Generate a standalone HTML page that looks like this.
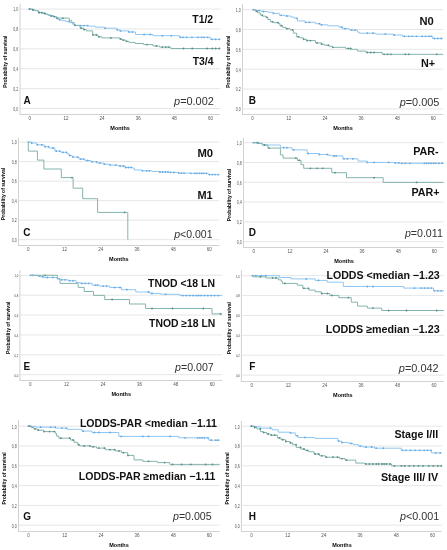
<!DOCTYPE html><html><head><meta charset="utf-8"><style>html,body{margin:0;padding:0;background:#fff;}svg{display:block;will-change:transform;}text{font-family:"Liberation Sans",sans-serif;}</style></head><body>
<svg width="447" height="550" viewBox="0 0 447 550">
<rect width="447" height="550" fill="#fff"/>
<g id="pA"><line x1="20" y1="108.5" x2="220.3" y2="108.5" stroke="#e6e6e6" stroke-width="1"/><line x1="20" y1="88.62" x2="220.3" y2="88.62" stroke="#e6e6e6" stroke-width="1"/><line x1="20" y1="68.74" x2="220.3" y2="68.74" stroke="#e6e6e6" stroke-width="1"/><line x1="20" y1="48.86" x2="220.3" y2="48.86" stroke="#e6e6e6" stroke-width="1"/><line x1="20" y1="28.98" x2="220.3" y2="28.98" stroke="#e6e6e6" stroke-width="1"/><line x1="20" y1="9.1" x2="220.3" y2="9.1" stroke="#e6e6e6" stroke-width="1"/><line x1="20" y1="3.5" x2="20" y2="115" stroke="#d2d2d2" stroke-width="1"/><line x1="20" y1="114.5" x2="220.3" y2="114.5" stroke="#d2d2d2" stroke-width="1"/><text x="18.3" y="110.8" font-size="4.6" fill="#555555" text-anchor="end" textLength="5.0" lengthAdjust="spacingAndGlyphs">0,0</text><text x="18.3" y="90.92" font-size="4.6" fill="#555555" text-anchor="end" textLength="5.0" lengthAdjust="spacingAndGlyphs">0,2</text><text x="18.3" y="71.04" font-size="4.6" fill="#555555" text-anchor="end" textLength="5.0" lengthAdjust="spacingAndGlyphs">0,4</text><text x="18.3" y="51.16" font-size="4.6" fill="#555555" text-anchor="end" textLength="5.0" lengthAdjust="spacingAndGlyphs">0,6</text><text x="18.3" y="31.28" font-size="4.6" fill="#555555" text-anchor="end" textLength="5.0" lengthAdjust="spacingAndGlyphs">0,8</text><text x="18.3" y="11.4" font-size="4.6" fill="#555555" text-anchor="end" textLength="5.0" lengthAdjust="spacingAndGlyphs">1,0</text><text x="29.8" y="119.8" font-size="4.5" fill="#555555" text-anchor="middle">0</text><text x="65.92" y="119.8" font-size="4.5" fill="#555555" text-anchor="middle">12</text><text x="102.04" y="119.8" font-size="4.5" fill="#555555" text-anchor="middle">24</text><text x="138.16" y="119.8" font-size="4.5" fill="#555555" text-anchor="middle">36</text><text x="174.28" y="119.8" font-size="4.5" fill="#555555" text-anchor="middle">48</text><text x="210.4" y="119.8" font-size="4.5" fill="#555555" text-anchor="middle">60</text><text x="120.1" y="129.8" font-size="5.5" font-weight="bold" fill="#000" text-anchor="middle">Months</text><text transform="translate(7.3,61.6) rotate(-90)" font-size="5" font-weight="bold" fill="#000" text-anchor="middle">Probability of survival</text><path d="M29.8,9.1 32.8,9.1 32.8,9.9 35,9.9 35,10.5 37.3,10.5 37.3,11.2 39,11.2 39,12.6 42.9,12.6 42.9,13.4 45.5,13.4 45.5,14.2 47.9,14.2 47.9,15.1 50.7,15.1 50.7,15.9 53.5,15.9 53.5,16.6 56.3,16.6 56.3,19 59,19 59,19.8 61.9,19.8 61.9,20.7 65.7,20.7 65.7,21.5 69.5,21.5 69.5,22.6 72.5,22.6 72.5,24.2 75,24.2 75,25.6 88.5,25.6 88.5,26.2 95.2,26.2 95.2,27.1 104.1,27.1 104.1,28.2 116.7,28.2 116.7,29.8 119.5,29.8 119.5,30.9 128.5,30.9 128.5,32 135.5,32 135.5,34.5 153,34.5 153,35.7 179.7,35.7 179.7,37.3 210.3,37.3 210.3,39.3 220.3,39.3" fill="none" stroke="#90c7f2" stroke-width="1"/><circle cx="29.5" cy="9.1" r="0.9" fill="#62a8e2"/><circle cx="32.8" cy="9.9" r="0.9" fill="#62a8e2"/><circle cx="39" cy="12.6" r="0.9" fill="#62a8e2"/><circle cx="41.8" cy="12.6" r="0.9" fill="#62a8e2"/><circle cx="44.6" cy="13.4" r="0.9" fill="#62a8e2"/><circle cx="51.3" cy="15.9" r="0.9" fill="#62a8e2"/><circle cx="54.1" cy="16.6" r="0.9" fill="#62a8e2"/><circle cx="59.7" cy="19.8" r="0.9" fill="#62a8e2"/><circle cx="69.2" cy="21.5" r="0.9" fill="#62a8e2"/><circle cx="80.7" cy="25.6" r="0.9" fill="#62a8e2"/><circle cx="84" cy="25.6" r="0.9" fill="#62a8e2"/><circle cx="87.4" cy="25.6" r="0.9" fill="#62a8e2"/><circle cx="105.3" cy="28.2" r="0.9" fill="#62a8e2"/><circle cx="117.3" cy="29.8" r="0.9" fill="#62a8e2"/><circle cx="120.6" cy="30.9" r="0.9" fill="#62a8e2"/><circle cx="129" cy="32" r="0.9" fill="#62a8e2"/><circle cx="132.4" cy="32" r="0.9" fill="#62a8e2"/><circle cx="144.1" cy="34.5" r="0.9" fill="#62a8e2"/><circle cx="150.3" cy="34.5" r="0.9" fill="#62a8e2"/><circle cx="162.4" cy="35.7" r="0.9" fill="#62a8e2"/><circle cx="171.3" cy="35.7" r="0.9" fill="#62a8e2"/><circle cx="180.3" cy="37.3" r="0.9" fill="#62a8e2"/><circle cx="183" cy="37.3" r="0.9" fill="#62a8e2"/><circle cx="186.4" cy="37.3" r="0.9" fill="#62a8e2"/><circle cx="192" cy="37.3" r="0.9" fill="#62a8e2"/><circle cx="198" cy="37.3" r="0.9" fill="#62a8e2"/><circle cx="201.6" cy="37.3" r="0.9" fill="#62a8e2"/><circle cx="204" cy="37.3" r="0.9" fill="#62a8e2"/><circle cx="207.6" cy="37.3" r="0.9" fill="#62a8e2"/><circle cx="212" cy="39.3" r="0.9" fill="#62a8e2"/><circle cx="215.6" cy="39.3" r="0.9" fill="#62a8e2"/><circle cx="219.3" cy="39.3" r="0.9" fill="#62a8e2"/><path d="M29.8,9.1 32.8,9.1 32.8,9.9 35,9.9 35,10.5 37.3,10.5 37.3,11.2 39,11.2 39,12.6 42.9,12.6 42.9,13.4 45.5,13.4 45.5,14.2 47.9,14.2 47.9,15.1 50.7,15.1 50.7,15.9 53.5,15.9 53.5,16.6 56.3,16.6 56.3,18.1 69.3,18.1 69.3,20.4 71.7,20.4 71.7,22.6 74.2,22.6 74.2,25.3 80.1,25.3 80.1,28.2 83.5,28.2 83.5,29.5 86.3,29.5 86.3,30.9 92.7,30.9 92.7,34.9 98,34.9 98,36.8 101.9,36.8 101.9,37.9 119.5,37.9 119.5,39 122.3,39 122.3,40.1 125.7,40.1 125.7,41.3 129,41.3 129,42.4 135.2,42.4 135.2,43.5 143.6,43.5 143.6,44.6 153,44.6 153,46 159.6,46 159.6,47.1 170.8,47.1 170.8,48.5 220.3,48.5" fill="none" stroke="#85b4ae" stroke-width="1"/><circle cx="29.5" cy="9.1" r="0.9" fill="#578d86"/><circle cx="32.8" cy="9.9" r="0.9" fill="#578d86"/><circle cx="39" cy="12.6" r="0.9" fill="#578d86"/><circle cx="41.8" cy="12.6" r="0.9" fill="#578d86"/><circle cx="44.6" cy="13.4" r="0.9" fill="#578d86"/><circle cx="51.3" cy="15.9" r="0.9" fill="#578d86"/><circle cx="54.1" cy="16.6" r="0.9" fill="#578d86"/><circle cx="57.4" cy="18.1" r="0.9" fill="#578d86"/><circle cx="63" cy="18.1" r="0.9" fill="#578d86"/><circle cx="75" cy="25.3" r="0.9" fill="#578d86"/><circle cx="81.2" cy="28.2" r="0.9" fill="#578d86"/><circle cx="84" cy="29.5" r="0.9" fill="#578d86"/><circle cx="93" cy="34.9" r="0.9" fill="#578d86"/><circle cx="96.3" cy="34.9" r="0.9" fill="#578d86"/><circle cx="99.1" cy="36.8" r="0.9" fill="#578d86"/><circle cx="110.9" cy="37.9" r="0.9" fill="#578d86"/><circle cx="120.6" cy="39" r="0.9" fill="#578d86"/><circle cx="123.4" cy="40.1" r="0.9" fill="#578d86"/><circle cx="126.6" cy="41.3" r="0.9" fill="#578d86"/><circle cx="146.9" cy="44.6" r="0.9" fill="#578d86"/><circle cx="156.4" cy="46" r="0.9" fill="#578d86"/><circle cx="162.4" cy="47.1" r="0.9" fill="#578d86"/><circle cx="165.7" cy="47.1" r="0.9" fill="#578d86"/><circle cx="168.5" cy="47.1" r="0.9" fill="#578d86"/><circle cx="183.5" cy="48.5" r="0.9" fill="#578d86"/><circle cx="192.2" cy="48.5" r="0.9" fill="#578d86"/><circle cx="207" cy="48.5" r="0.9" fill="#578d86"/><circle cx="212.3" cy="48.5" r="0.9" fill="#578d86"/><circle cx="215.7" cy="48.5" r="0.9" fill="#578d86"/><circle cx="219.3" cy="48.5" r="0.9" fill="#578d86"/><text x="23.53" y="104.46" font-size="10" font-weight="bold" fill="#111">A</text><text x="213.8" y="105.02" font-size="10.91" fill="#333" text-anchor="end"><tspan font-style="italic">p</tspan>=0.002</text><text x="213.11" y="23.35" font-size="10.4" font-weight="bold" fill="#111" text-anchor="end">T1/2</text><text x="213.46" y="64.73" font-size="10.4" font-weight="bold" fill="#111" text-anchor="end">T3/4</text></g>
<g id="pB"><line x1="242.5" y1="108.9" x2="443.2" y2="108.9" stroke="#e6e6e6" stroke-width="1"/><line x1="242.5" y1="89.06" x2="443.2" y2="89.06" stroke="#e6e6e6" stroke-width="1"/><line x1="242.5" y1="69.22" x2="443.2" y2="69.22" stroke="#e6e6e6" stroke-width="1"/><line x1="242.5" y1="49.38" x2="443.2" y2="49.38" stroke="#e6e6e6" stroke-width="1"/><line x1="242.5" y1="29.54" x2="443.2" y2="29.54" stroke="#e6e6e6" stroke-width="1"/><line x1="242.5" y1="9.7" x2="443.2" y2="9.7" stroke="#e6e6e6" stroke-width="1"/><line x1="242.5" y1="4" x2="242.5" y2="115" stroke="#d2d2d2" stroke-width="1"/><line x1="242.5" y1="114.5" x2="443.2" y2="114.5" stroke="#d2d2d2" stroke-width="1"/><text x="240.8" y="111.2" font-size="4.6" fill="#555555" text-anchor="end" textLength="5.0" lengthAdjust="spacingAndGlyphs">0,0</text><text x="240.8" y="91.36" font-size="4.6" fill="#555555" text-anchor="end" textLength="5.0" lengthAdjust="spacingAndGlyphs">0,2</text><text x="240.8" y="71.52" font-size="4.6" fill="#555555" text-anchor="end" textLength="5.0" lengthAdjust="spacingAndGlyphs">0,4</text><text x="240.8" y="51.68" font-size="4.6" fill="#555555" text-anchor="end" textLength="5.0" lengthAdjust="spacingAndGlyphs">0,6</text><text x="240.8" y="31.84" font-size="4.6" fill="#555555" text-anchor="end" textLength="5.0" lengthAdjust="spacingAndGlyphs">0,8</text><text x="240.8" y="12" font-size="4.6" fill="#555555" text-anchor="end" textLength="5.0" lengthAdjust="spacingAndGlyphs">1,0</text><text x="252.6" y="120" font-size="4.5" fill="#555555" text-anchor="middle">0</text><text x="288.76" y="120" font-size="4.5" fill="#555555" text-anchor="middle">12</text><text x="324.91" y="120" font-size="4.5" fill="#555555" text-anchor="middle">24</text><text x="361.07" y="120" font-size="4.5" fill="#555555" text-anchor="middle">36</text><text x="397.22" y="120" font-size="4.5" fill="#555555" text-anchor="middle">48</text><text x="433.38" y="120" font-size="4.5" fill="#555555" text-anchor="middle">60</text><text x="342.99" y="130" font-size="5.5" font-weight="bold" fill="#000" text-anchor="middle">Months</text><text transform="translate(230.2,61.6) rotate(-90)" font-size="5" font-weight="bold" fill="#000" text-anchor="middle">Probability of survival</text><path d="M252.6,9.7 255.8,9.7 255.8,10.6 261.4,10.6 261.4,11.5 268.1,11.5 268.1,12.3 273.2,12.3 273.2,13.4 279.3,13.4 279.3,15.3 284.9,15.3 284.9,16 291.1,16 291.1,17.1 294.7,17.1 294.7,18.3 297.4,18.3 297.4,21 304.8,21 304.8,22.3 315.5,22.3 315.5,23.7 320.2,23.7 320.2,24.8 327.6,24.8 327.6,25.8 339,25.8 339,27.2 342.7,27.2 342.7,28.7 349.4,28.7 349.4,30.1 357.4,30.1 357.4,32.1 359.5,32.1 359.5,33.2 375.6,33.2 375.6,34.1 393,34.1 393,35 402.4,35 402.4,36.3 432.6,36.3 432.6,38.5 443.2,38.5" fill="none" stroke="#90c7f2" stroke-width="1"/><circle cx="253.4" cy="9.7" r="0.9" fill="#62a8e2"/><circle cx="259" cy="10.6" r="0.9" fill="#62a8e2"/><circle cx="263.4" cy="11.5" r="0.9" fill="#62a8e2"/><circle cx="273.5" cy="13.4" r="0.9" fill="#62a8e2"/><circle cx="281.3" cy="15.3" r="0.9" fill="#62a8e2"/><circle cx="286.9" cy="16" r="0.9" fill="#62a8e2"/><circle cx="297" cy="18.3" r="0.9" fill="#62a8e2"/><circle cx="305.9" cy="22.3" r="0.9" fill="#62a8e2"/><circle cx="309.3" cy="22.3" r="0.9" fill="#62a8e2"/><circle cx="319.4" cy="23.7" r="0.9" fill="#62a8e2"/><circle cx="321.6" cy="24.8" r="0.9" fill="#62a8e2"/><circle cx="341.7" cy="27.2" r="0.9" fill="#62a8e2"/><circle cx="345.1" cy="28.7" r="0.9" fill="#62a8e2"/><circle cx="351.7" cy="30.1" r="0.9" fill="#62a8e2"/><circle cx="355.1" cy="30.1" r="0.9" fill="#62a8e2"/><circle cx="367.4" cy="33.2" r="0.9" fill="#62a8e2"/><circle cx="373" cy="33.2" r="0.9" fill="#62a8e2"/><circle cx="385.3" cy="34.1" r="0.9" fill="#62a8e2"/><circle cx="394.2" cy="35" r="0.9" fill="#62a8e2"/><circle cx="404.3" cy="36.3" r="0.9" fill="#62a8e2"/><circle cx="408.8" cy="36.3" r="0.9" fill="#62a8e2"/><circle cx="412.1" cy="36.3" r="0.9" fill="#62a8e2"/><circle cx="416.6" cy="36.3" r="0.9" fill="#62a8e2"/><circle cx="422.2" cy="36.3" r="0.9" fill="#62a8e2"/><circle cx="425.5" cy="36.3" r="0.9" fill="#62a8e2"/><circle cx="428.9" cy="36.3" r="0.9" fill="#62a8e2"/><circle cx="431.1" cy="36.3" r="0.9" fill="#62a8e2"/><circle cx="434.5" cy="38.5" r="0.9" fill="#62a8e2"/><circle cx="437.8" cy="38.5" r="0.9" fill="#62a8e2"/><circle cx="441.2" cy="38.5" r="0.9" fill="#62a8e2"/><path d="M252.6,9.7 255.3,9.7 255.3,11.2 257.5,11.2 257.5,12.8 260.3,12.8 260.3,15.1 262.5,15.1 262.5,16.2 265.9,16.2 265.9,17.3 267.9,17.3 267.9,19.5 270.4,19.5 270.4,21.8 273.7,21.8 273.7,22.7 278.8,22.7 278.8,23.5 279.9,23.5 279.9,25.7 282.7,25.7 282.7,27.4 286,27.4 286,28.7 290,28.7 290,29.8 293.4,29.8 293.4,33.1 296.7,33.1 296.7,36.8 300,36.8 300,37.9 303.4,37.9 303.4,39.3 306.8,39.3 306.8,40.6 315.5,40.6 315.5,42.9 321.5,42.9 321.5,44.2 324.2,44.2 324.2,45.2 328.9,45.2 328.9,46.2 332.3,46.2 332.3,47.3 345.7,47.3 345.7,48.5 351.4,48.5 351.4,49.3 357.4,49.3 357.4,51.1 366.2,51.1 366.2,52.5 382.3,52.5 382.3,54.3 443.2,54.3" fill="none" stroke="#85b4ae" stroke-width="1"/><circle cx="256.7" cy="11.2" r="0.9" fill="#578d86"/><circle cx="262.3" cy="15.1" r="0.9" fill="#578d86"/><circle cx="266.8" cy="17.3" r="0.9" fill="#578d86"/><circle cx="272.4" cy="21.8" r="0.9" fill="#578d86"/><circle cx="278" cy="22.7" r="0.9" fill="#578d86"/><circle cx="281.3" cy="25.7" r="0.9" fill="#578d86"/><circle cx="286.9" cy="28.7" r="0.9" fill="#578d86"/><circle cx="292.5" cy="29.8" r="0.9" fill="#578d86"/><circle cx="298.1" cy="36.8" r="0.9" fill="#578d86"/><circle cx="303.7" cy="39.3" r="0.9" fill="#578d86"/><circle cx="307" cy="40.6" r="0.9" fill="#578d86"/><circle cx="310.4" cy="40.6" r="0.9" fill="#578d86"/><circle cx="317.1" cy="42.9" r="0.9" fill="#578d86"/><circle cx="321.6" cy="44.2" r="0.9" fill="#578d86"/><circle cx="328.3" cy="45.2" r="0.9" fill="#578d86"/><circle cx="332.8" cy="47.3" r="0.9" fill="#578d86"/><circle cx="348.4" cy="48.5" r="0.9" fill="#578d86"/><circle cx="350.6" cy="48.5" r="0.9" fill="#578d86"/><circle cx="367.4" cy="52.5" r="0.9" fill="#578d86"/><circle cx="370.7" cy="52.5" r="0.9" fill="#578d86"/><circle cx="374.1" cy="52.5" r="0.9" fill="#578d86"/><circle cx="384.1" cy="54.3" r="0.9" fill="#578d86"/><circle cx="387.5" cy="54.3" r="0.9" fill="#578d86"/><circle cx="390.9" cy="54.3" r="0.9" fill="#578d86"/><circle cx="405.4" cy="54.3" r="0.9" fill="#578d86"/><circle cx="408.8" cy="54.3" r="0.9" fill="#578d86"/><circle cx="436.7" cy="54.3" r="0.9" fill="#578d86"/><text x="248.67" y="104.39" font-size="10" font-weight="bold" fill="#111">B</text><text x="439.38" y="105.99" font-size="10.91" fill="#333" text-anchor="end"><tspan font-style="italic">p</tspan>=0.005</text><text x="433.69" y="25.23" font-size="11.16" font-weight="bold" fill="#111" text-anchor="end">N0</text><text x="435.15" y="67.44" font-size="10.82" font-weight="bold" fill="#111" text-anchor="end">N+</text></g>
<g id="pC"><line x1="18.5" y1="239.7" x2="219.3" y2="239.7" stroke="#e6e6e6" stroke-width="1"/><line x1="18.5" y1="220.18" x2="219.3" y2="220.18" stroke="#e6e6e6" stroke-width="1"/><line x1="18.5" y1="200.66" x2="219.3" y2="200.66" stroke="#e6e6e6" stroke-width="1"/><line x1="18.5" y1="181.14" x2="219.3" y2="181.14" stroke="#e6e6e6" stroke-width="1"/><line x1="18.5" y1="161.62" x2="219.3" y2="161.62" stroke="#e6e6e6" stroke-width="1"/><line x1="18.5" y1="142.1" x2="219.3" y2="142.1" stroke="#e6e6e6" stroke-width="1"/><line x1="18.5" y1="137.5" x2="18.5" y2="246" stroke="#d2d2d2" stroke-width="1"/><line x1="18.5" y1="245.5" x2="219.3" y2="245.5" stroke="#d2d2d2" stroke-width="1"/><text x="16.8" y="242" font-size="4.6" fill="#555555" text-anchor="end" textLength="5.0" lengthAdjust="spacingAndGlyphs">0,0</text><text x="16.8" y="222.48" font-size="4.6" fill="#555555" text-anchor="end" textLength="5.0" lengthAdjust="spacingAndGlyphs">0,2</text><text x="16.8" y="202.96" font-size="4.6" fill="#555555" text-anchor="end" textLength="5.0" lengthAdjust="spacingAndGlyphs">0,4</text><text x="16.8" y="183.44" font-size="4.6" fill="#555555" text-anchor="end" textLength="5.0" lengthAdjust="spacingAndGlyphs">0,6</text><text x="16.8" y="163.92" font-size="4.6" fill="#555555" text-anchor="end" textLength="5.0" lengthAdjust="spacingAndGlyphs">0,8</text><text x="16.8" y="144.4" font-size="4.6" fill="#555555" text-anchor="end" textLength="5.0" lengthAdjust="spacingAndGlyphs">1,0</text><text x="28.3" y="251.1" font-size="4.5" fill="#555555" text-anchor="middle">0</text><text x="64.52" y="251.1" font-size="4.5" fill="#555555" text-anchor="middle">12</text><text x="100.73" y="251.1" font-size="4.5" fill="#555555" text-anchor="middle">24</text><text x="136.95" y="251.1" font-size="4.5" fill="#555555" text-anchor="middle">36</text><text x="173.16" y="251.1" font-size="4.5" fill="#555555" text-anchor="middle">48</text><text x="209.38" y="251.1" font-size="4.5" fill="#555555" text-anchor="middle">60</text><text x="118.84" y="261.1" font-size="5.5" font-weight="bold" fill="#000" text-anchor="middle">Months</text><text transform="translate(5.4,194) rotate(-90)" font-size="5" font-weight="bold" fill="#000" text-anchor="middle">Probability of survival</text><path d="M28.3,142.1 31.4,142.1 31.4,143 36.8,143 36.8,144.8 44.1,144.8 44.1,146.7 48.8,146.7 48.8,148 54.9,148 54.9,151.1 61,151.1 61,152.3 67,152.3 67,153.8 69.1,153.8 69.1,155.5 72.3,155.5 72.3,157.1 79,157.1 79,159.1 85,159.1 85,160.5 90.9,160.5 90.9,161.8 97,161.8 97,163 103.6,163 103.6,164.2 110,164.2 110,165.1 118.2,165.1 118.2,166 125,166 125,167.5 132.7,167.5 132.7,168.2 134.4,168.2 134.4,170 142.4,170 142.4,170.8 151.8,170.8 151.8,171.5 158.6,171.5 158.6,172 169.3,172 169.3,172.4 178.7,172.4 178.7,173.1 190,173.1 190,173.3 208.3,173.3 208.3,174.6 219.3,174.6" fill="none" stroke="#90c7f2" stroke-width="1"/><circle cx="28.4" cy="142.1" r="0.9" fill="#62a8e2"/><circle cx="31.7" cy="143" r="0.9" fill="#62a8e2"/><circle cx="37.3" cy="144.8" r="0.9" fill="#62a8e2"/><circle cx="41.8" cy="144.8" r="0.9" fill="#62a8e2"/><circle cx="45.1" cy="146.7" r="0.9" fill="#62a8e2"/><circle cx="48.5" cy="146.7" r="0.9" fill="#62a8e2"/><circle cx="53" cy="148" r="0.9" fill="#62a8e2"/><circle cx="56.3" cy="151.1" r="0.9" fill="#62a8e2"/><circle cx="59.7" cy="151.1" r="0.9" fill="#62a8e2"/><circle cx="63" cy="152.3" r="0.9" fill="#62a8e2"/><circle cx="66.4" cy="152.3" r="0.9" fill="#62a8e2"/><circle cx="69.7" cy="155.5" r="0.9" fill="#62a8e2"/><circle cx="73.1" cy="157.1" r="0.9" fill="#62a8e2"/><circle cx="77.6" cy="157.1" r="0.9" fill="#62a8e2"/><circle cx="80.9" cy="159.1" r="0.9" fill="#62a8e2"/><circle cx="83.6" cy="159.1" r="0.9" fill="#62a8e2"/><circle cx="87.6" cy="160.5" r="0.9" fill="#62a8e2"/><circle cx="92.1" cy="161.8" r="0.9" fill="#62a8e2"/><circle cx="96.6" cy="161.8" r="0.9" fill="#62a8e2"/><circle cx="99.9" cy="163" r="0.9" fill="#62a8e2"/><circle cx="104.4" cy="164.2" r="0.9" fill="#62a8e2"/><circle cx="110" cy="165.1" r="0.9" fill="#62a8e2"/><circle cx="115.6" cy="165.1" r="0.9" fill="#62a8e2"/><circle cx="120.1" cy="166" r="0.9" fill="#62a8e2"/><circle cx="123.4" cy="166" r="0.9" fill="#62a8e2"/><circle cx="125.7" cy="167.5" r="0.9" fill="#62a8e2"/><circle cx="128.4" cy="167.5" r="0.9" fill="#62a8e2"/><circle cx="131" cy="167.5" r="0.9" fill="#62a8e2"/><circle cx="142.4" cy="170.8" r="0.9" fill="#62a8e2"/><circle cx="146.5" cy="170.8" r="0.9" fill="#62a8e2"/><circle cx="149.2" cy="170.8" r="0.9" fill="#62a8e2"/><circle cx="159.9" cy="172" r="0.9" fill="#62a8e2"/><circle cx="162.6" cy="172" r="0.9" fill="#62a8e2"/><circle cx="165.3" cy="172" r="0.9" fill="#62a8e2"/><circle cx="168" cy="172" r="0.9" fill="#62a8e2"/><circle cx="170.6" cy="172.4" r="0.9" fill="#62a8e2"/><circle cx="174" cy="172.4" r="0.9" fill="#62a8e2"/><circle cx="178.7" cy="173.1" r="0.9" fill="#62a8e2"/><circle cx="181.4" cy="173.1" r="0.9" fill="#62a8e2"/><circle cx="184.1" cy="173.1" r="0.9" fill="#62a8e2"/><circle cx="190.8" cy="173.3" r="0.9" fill="#62a8e2"/><circle cx="194.8" cy="173.3" r="0.9" fill="#62a8e2"/><circle cx="196.9" cy="173.3" r="0.9" fill="#62a8e2"/><circle cx="199.5" cy="173.3" r="0.9" fill="#62a8e2"/><circle cx="201.6" cy="173.3" r="0.9" fill="#62a8e2"/><circle cx="203.6" cy="173.3" r="0.9" fill="#62a8e2"/><circle cx="206.3" cy="173.3" r="0.9" fill="#62a8e2"/><circle cx="209.6" cy="174.6" r="0.9" fill="#62a8e2"/><circle cx="212.3" cy="174.6" r="0.9" fill="#62a8e2"/><circle cx="215" cy="174.6" r="0.9" fill="#62a8e2"/><circle cx="218.3" cy="174.6" r="0.9" fill="#62a8e2"/><path d="M28.3,142.1 28.3,142.1 28.3,151.1 37.4,151.1 37.4,160.1 43.9,160.1 43.9,169 61.3,169 61.3,177.6 73.1,177.6 73.1,188.2 82.7,188.2 82.7,198.7 97.6,198.7 97.6,212.4 127.8,212.4 127.8,239.7 127.8,239.7" fill="none" stroke="#85b4ae" stroke-width="1"/><circle cx="72" cy="177.6" r="0.9" fill="#578d86"/><circle cx="124.5" cy="212.4" r="0.9" fill="#578d86"/><text x="23.3" y="235.61" font-size="10" font-weight="bold" fill="#111">C</text><text x="212.57" y="238.43" font-size="10.53" fill="#333" text-anchor="end"><tspan font-style="italic">p</tspan>&lt;0.001</text><text x="213.11" y="157.4" font-size="11.25" font-weight="bold" fill="#111" text-anchor="end">M0</text><text x="212.69" y="198.87" font-size="10.94" font-weight="bold" fill="#111" text-anchor="end">M1</text></g>
<g id="pD"><line x1="243.5" y1="241.7" x2="443.6" y2="241.7" stroke="#e6e6e6" stroke-width="1"/><line x1="243.5" y1="221.9" x2="443.6" y2="221.9" stroke="#e6e6e6" stroke-width="1"/><line x1="243.5" y1="202.1" x2="443.6" y2="202.1" stroke="#e6e6e6" stroke-width="1"/><line x1="243.5" y1="182.3" x2="443.6" y2="182.3" stroke="#e6e6e6" stroke-width="1"/><line x1="243.5" y1="162.5" x2="443.6" y2="162.5" stroke="#e6e6e6" stroke-width="1"/><line x1="243.5" y1="142.7" x2="443.6" y2="142.7" stroke="#e6e6e6" stroke-width="1"/><line x1="243.5" y1="137.7" x2="243.5" y2="248" stroke="#d2d2d2" stroke-width="1"/><line x1="243.5" y1="247.5" x2="443.6" y2="247.5" stroke="#d2d2d2" stroke-width="1"/><text x="241.8" y="244" font-size="4.6" fill="#555555" text-anchor="end" textLength="5.0" lengthAdjust="spacingAndGlyphs">0,0</text><text x="241.8" y="224.2" font-size="4.6" fill="#555555" text-anchor="end" textLength="5.0" lengthAdjust="spacingAndGlyphs">0,2</text><text x="241.8" y="204.4" font-size="4.6" fill="#555555" text-anchor="end" textLength="5.0" lengthAdjust="spacingAndGlyphs">0,4</text><text x="241.8" y="184.6" font-size="4.6" fill="#555555" text-anchor="end" textLength="5.0" lengthAdjust="spacingAndGlyphs">0,6</text><text x="241.8" y="164.8" font-size="4.6" fill="#555555" text-anchor="end" textLength="5.0" lengthAdjust="spacingAndGlyphs">0,8</text><text x="241.8" y="145" font-size="4.6" fill="#555555" text-anchor="end" textLength="5.0" lengthAdjust="spacingAndGlyphs">1,0</text><text x="253.8" y="253" font-size="4.5" fill="#555555" text-anchor="middle">0</text><text x="289.9" y="253" font-size="4.5" fill="#555555" text-anchor="middle">12</text><text x="325.99" y="253" font-size="4.5" fill="#555555" text-anchor="middle">24</text><text x="362.09" y="253" font-size="4.5" fill="#555555" text-anchor="middle">36</text><text x="398.18" y="253" font-size="4.5" fill="#555555" text-anchor="middle">48</text><text x="434.28" y="253" font-size="4.5" fill="#555555" text-anchor="middle">60</text><text x="344.04" y="263" font-size="5.5" font-weight="bold" fill="#000" text-anchor="middle">Months</text><text transform="translate(231.3,195) rotate(-90)" font-size="5" font-weight="bold" fill="#000" text-anchor="middle">Probability of survival</text><path d="M253.8,142.7 258,142.7 258,143.5 262.5,143.5 262.5,145 280.4,145 280.4,147.7 292,147.7 292,149.9 307.2,149.9 307.2,153.5 318.9,153.5 318.9,154.5 328.7,154.5 328.7,155.4 332.2,155.4 332.2,155.9 342.9,155.9 342.9,158.8 358.1,158.8 358.1,161.1 367,161.1 367,162.4 393.9,162.4 393.9,162.9 400.2,162.9 400.2,163.3 443.6,163.3" fill="none" stroke="#90c7f2" stroke-width="1"/><circle cx="253.4" cy="142.7" r="0.9" fill="#62a8e2"/><circle cx="256.7" cy="142.7" r="0.9" fill="#62a8e2"/><circle cx="283.6" cy="147.7" r="0.9" fill="#62a8e2"/><circle cx="286.9" cy="147.7" r="0.9" fill="#62a8e2"/><circle cx="293.6" cy="149.9" r="0.9" fill="#62a8e2"/><circle cx="308.2" cy="153.5" r="0.9" fill="#62a8e2"/><circle cx="319.4" cy="154.5" r="0.9" fill="#62a8e2"/><circle cx="327.2" cy="154.5" r="0.9" fill="#62a8e2"/><circle cx="333.9" cy="155.9" r="0.9" fill="#62a8e2"/><circle cx="336.1" cy="155.9" r="0.9" fill="#62a8e2"/><circle cx="344" cy="158.8" r="0.9" fill="#62a8e2"/><circle cx="347.3" cy="158.8" r="0.9" fill="#62a8e2"/><circle cx="352.8" cy="158.8" r="0.9" fill="#62a8e2"/><circle cx="367.4" cy="162.4" r="0.9" fill="#62a8e2"/><circle cx="374.1" cy="162.4" r="0.9" fill="#62a8e2"/><circle cx="388.6" cy="162.4" r="0.9" fill="#62a8e2"/><circle cx="395.3" cy="162.9" r="0.9" fill="#62a8e2"/><circle cx="398.7" cy="162.9" r="0.9" fill="#62a8e2"/><circle cx="402" cy="163.3" r="0.9" fill="#62a8e2"/><circle cx="405.4" cy="163.3" r="0.9" fill="#62a8e2"/><circle cx="409.9" cy="163.3" r="0.9" fill="#62a8e2"/><circle cx="424.4" cy="163.3" r="0.9" fill="#62a8e2"/><circle cx="426.7" cy="163.3" r="0.9" fill="#62a8e2"/><circle cx="428.9" cy="163.3" r="0.9" fill="#62a8e2"/><circle cx="431.1" cy="163.3" r="0.9" fill="#62a8e2"/><circle cx="433.4" cy="163.3" r="0.9" fill="#62a8e2"/><circle cx="435.6" cy="163.3" r="0.9" fill="#62a8e2"/><circle cx="439" cy="163.3" r="0.9" fill="#62a8e2"/><circle cx="442.3" cy="163.3" r="0.9" fill="#62a8e2"/><path d="M253.8,142.7 258,142.7 258,143.3 262.2,143.3 262.2,145 267.9,145 267.9,148.1 280.4,148.1 280.4,154.9 283.1,154.9 283.1,158.1 297.4,158.1 297.4,160.3 301,160.3 301,164.7 303.7,164.7 303.7,168.3 331.8,168.3 331.8,172.7 346.5,172.7 346.5,177.7 383.2,177.7 383.2,182.4 443.6,182.4" fill="none" stroke="#85b4ae" stroke-width="1"/><circle cx="257.8" cy="142.7" r="0.9" fill="#578d86"/><circle cx="264.5" cy="145" r="0.9" fill="#578d86"/><circle cx="269" cy="148.1" r="0.9" fill="#578d86"/><circle cx="295.9" cy="158.1" r="0.9" fill="#578d86"/><circle cx="299.2" cy="160.3" r="0.9" fill="#578d86"/><circle cx="310.4" cy="168.3" r="0.9" fill="#578d86"/><circle cx="317.1" cy="168.3" r="0.9" fill="#578d86"/><circle cx="322.7" cy="168.3" r="0.9" fill="#578d86"/><circle cx="335" cy="172.7" r="0.9" fill="#578d86"/><circle cx="374.1" cy="177.7" r="0.9" fill="#578d86"/><circle cx="416.6" cy="182.4" r="0.9" fill="#578d86"/><text x="248.67" y="235.87" font-size="10" font-weight="bold" fill="#111">D</text><text x="442.8" y="236.99" font-size="10.61" fill="#333" text-anchor="end"><tspan font-style="italic">p</tspan>=0.011</text><text x="438.69" y="155.49" font-size="10.75" font-weight="bold" fill="#111" text-anchor="end">PAR-</text><text x="439.5" y="195.75" font-size="10.71" font-weight="bold" fill="#111" text-anchor="end">PAR+</text></g>
<g id="pE"><line x1="19.9" y1="374.7" x2="222.2" y2="374.7" stroke="#e6e6e6" stroke-width="1"/><line x1="19.9" y1="354.82" x2="222.2" y2="354.82" stroke="#e6e6e6" stroke-width="1"/><line x1="19.9" y1="334.94" x2="222.2" y2="334.94" stroke="#e6e6e6" stroke-width="1"/><line x1="19.9" y1="315.06" x2="222.2" y2="315.06" stroke="#e6e6e6" stroke-width="1"/><line x1="19.9" y1="295.18" x2="222.2" y2="295.18" stroke="#e6e6e6" stroke-width="1"/><line x1="19.9" y1="275.3" x2="222.2" y2="275.3" stroke="#e6e6e6" stroke-width="1"/><line x1="19.9" y1="270.1" x2="19.9" y2="381" stroke="#d2d2d2" stroke-width="1"/><line x1="19.9" y1="380.5" x2="222.2" y2="380.5" stroke="#d2d2d2" stroke-width="1"/><text x="18.3" y="376.6" font-size="3.4" fill="#3a3a3a" text-anchor="end" textLength="3.9" lengthAdjust="spacingAndGlyphs">0,0</text><text x="18.3" y="356.72" font-size="3.4" fill="#3a3a3a" text-anchor="end" textLength="3.9" lengthAdjust="spacingAndGlyphs">0,2</text><text x="18.3" y="336.84" font-size="3.4" fill="#3a3a3a" text-anchor="end" textLength="3.9" lengthAdjust="spacingAndGlyphs">0,4</text><text x="18.3" y="316.96" font-size="3.4" fill="#3a3a3a" text-anchor="end" textLength="3.9" lengthAdjust="spacingAndGlyphs">0,6</text><text x="18.3" y="297.08" font-size="3.4" fill="#3a3a3a" text-anchor="end" textLength="3.9" lengthAdjust="spacingAndGlyphs">0,8</text><text x="18.3" y="277.2" font-size="3.4" fill="#3a3a3a" text-anchor="end" textLength="3.9" lengthAdjust="spacingAndGlyphs">1,0</text><text x="30.2" y="386" font-size="4.5" fill="#555555" text-anchor="middle">0</text><text x="66.62" y="386" font-size="4.5" fill="#555555" text-anchor="middle">12</text><text x="103.04" y="386" font-size="4.5" fill="#555555" text-anchor="middle">24</text><text x="139.46" y="386" font-size="4.5" fill="#555555" text-anchor="middle">36</text><text x="175.88" y="386" font-size="4.5" fill="#555555" text-anchor="middle">48</text><text x="212.3" y="386" font-size="4.5" fill="#555555" text-anchor="middle">60</text><text x="121.25" y="396" font-size="5.5" font-weight="bold" fill="#000" text-anchor="middle">Months</text><text transform="translate(9.8,327.8) rotate(-90)" font-size="5" font-weight="bold" fill="#000" text-anchor="middle">Probability of survival</text><path d="M30.2,275.3 37.6,275.3 37.6,275.9 40.3,275.9 40.3,276.8 43.9,276.8 43.9,277.5 57.3,277.5 57.3,278.9 60.9,278.9 60.9,279.8 68,279.8 68,280.7 76.1,280.7 76.1,282.5 80.6,282.5 80.6,283.4 92.2,283.4 92.2,285.2 99.4,285.2 99.4,286.1 109.8,286.1 109.8,287.5 121.5,287.5 121.5,289.7 135.8,289.7 135.8,292 150.1,292 150.1,293.4 160.8,293.4 160.8,294.3 180,294.3 180,295.6 222.2,295.6" fill="none" stroke="#90c7f2" stroke-width="1"/><circle cx="30.5" cy="275.3" r="0.9" fill="#62a8e2"/><circle cx="32.7" cy="275.3" r="0.9" fill="#62a8e2"/><circle cx="39.4" cy="275.9" r="0.9" fill="#62a8e2"/><circle cx="42.8" cy="276.8" r="0.9" fill="#62a8e2"/><circle cx="47.3" cy="277.5" r="0.9" fill="#62a8e2"/><circle cx="52.8" cy="277.5" r="0.9" fill="#62a8e2"/><circle cx="61.8" cy="279.8" r="0.9" fill="#62a8e2"/><circle cx="65.2" cy="279.8" r="0.9" fill="#62a8e2"/><circle cx="69.6" cy="280.7" r="0.9" fill="#62a8e2"/><circle cx="73" cy="280.7" r="0.9" fill="#62a8e2"/><circle cx="81.9" cy="283.4" r="0.9" fill="#62a8e2"/><circle cx="85.3" cy="283.4" r="0.9" fill="#62a8e2"/><circle cx="88.6" cy="283.4" r="0.9" fill="#62a8e2"/><circle cx="95.4" cy="285.2" r="0.9" fill="#62a8e2"/><circle cx="97.6" cy="285.2" r="0.9" fill="#62a8e2"/><circle cx="103.2" cy="286.1" r="0.9" fill="#62a8e2"/><circle cx="106.5" cy="286.1" r="0.9" fill="#62a8e2"/><circle cx="114.4" cy="287.5" r="0.9" fill="#62a8e2"/><circle cx="120" cy="287.5" r="0.9" fill="#62a8e2"/><circle cx="126.8" cy="289.7" r="0.9" fill="#62a8e2"/><circle cx="148.5" cy="292" r="0.9" fill="#62a8e2"/><circle cx="152" cy="293.4" r="0.9" fill="#62a8e2"/><circle cx="165.7" cy="294.3" r="0.9" fill="#62a8e2"/><circle cx="182.8" cy="295.6" r="0.9" fill="#62a8e2"/><circle cx="186.2" cy="295.6" r="0.9" fill="#62a8e2"/><circle cx="189.6" cy="295.6" r="0.9" fill="#62a8e2"/><circle cx="193.1" cy="295.6" r="0.9" fill="#62a8e2"/><circle cx="196.5" cy="295.6" r="0.9" fill="#62a8e2"/><circle cx="198.8" cy="295.6" r="0.9" fill="#62a8e2"/><circle cx="201" cy="295.6" r="0.9" fill="#62a8e2"/><circle cx="204.5" cy="295.6" r="0.9" fill="#62a8e2"/><circle cx="207.9" cy="295.6" r="0.9" fill="#62a8e2"/><circle cx="211.3" cy="295.6" r="0.9" fill="#62a8e2"/><circle cx="214.7" cy="295.6" r="0.9" fill="#62a8e2"/><circle cx="218.2" cy="295.6" r="0.9" fill="#62a8e2"/><path d="M30.2,275.3 57.3,275.3 57.3,278.9 60,278.9 60,283.4 78.2,283.4 78.2,287.4 84.2,287.4 84.2,291.5 93.6,291.5 93.6,295.4 104.7,295.4 104.7,299.5 129.5,299.5 129.5,304 145.6,304 145.6,308.5 212,308.5 212,313.9 222.2,313.9" fill="none" stroke="#85b4ae" stroke-width="1"/><circle cx="45" cy="275.3" r="0.9" fill="#578d86"/><circle cx="112.1" cy="299.5" r="0.9" fill="#578d86"/><circle cx="152" cy="308.5" r="0.9" fill="#578d86"/><circle cx="172.5" cy="308.5" r="0.9" fill="#578d86"/><circle cx="203.3" cy="308.5" r="0.9" fill="#578d86"/><circle cx="220.5" cy="313.9" r="0.9" fill="#578d86"/><text x="23.56" y="369.76" font-size="10" font-weight="bold" fill="#111">E</text><text x="213.69" y="371.3" font-size="10.6" fill="#333" text-anchor="end"><tspan font-style="italic">p</tspan>=0.007</text><text x="214.92" y="286.68" font-size="10.43" font-weight="bold" fill="#111" text-anchor="end">TNOD &lt;18 LN</text><text x="215.34" y="326.54" font-size="10.39" font-weight="bold" fill="#111" text-anchor="end">TNOD ≥18 LN</text></g>
<g id="pF"><line x1="241.4" y1="375.1" x2="443.9" y2="375.1" stroke="#e6e6e6" stroke-width="1"/><line x1="241.4" y1="355.22" x2="443.9" y2="355.22" stroke="#e6e6e6" stroke-width="1"/><line x1="241.4" y1="335.34" x2="443.9" y2="335.34" stroke="#e6e6e6" stroke-width="1"/><line x1="241.4" y1="315.46" x2="443.9" y2="315.46" stroke="#e6e6e6" stroke-width="1"/><line x1="241.4" y1="295.58" x2="443.9" y2="295.58" stroke="#e6e6e6" stroke-width="1"/><line x1="241.4" y1="275.7" x2="443.9" y2="275.7" stroke="#e6e6e6" stroke-width="1"/><line x1="241.4" y1="270" x2="241.4" y2="382" stroke="#d2d2d2" stroke-width="1"/><line x1="241.4" y1="381.5" x2="443.9" y2="381.5" stroke="#d2d2d2" stroke-width="1"/><text x="239.8" y="377" font-size="3.4" fill="#3a3a3a" text-anchor="end" textLength="3.9" lengthAdjust="spacingAndGlyphs">0,0</text><text x="239.8" y="357.12" font-size="3.4" fill="#3a3a3a" text-anchor="end" textLength="3.9" lengthAdjust="spacingAndGlyphs">0,2</text><text x="239.8" y="337.24" font-size="3.4" fill="#3a3a3a" text-anchor="end" textLength="3.9" lengthAdjust="spacingAndGlyphs">0,4</text><text x="239.8" y="317.36" font-size="3.4" fill="#3a3a3a" text-anchor="end" textLength="3.9" lengthAdjust="spacingAndGlyphs">0,6</text><text x="239.8" y="297.48" font-size="3.4" fill="#3a3a3a" text-anchor="end" textLength="3.9" lengthAdjust="spacingAndGlyphs">0,8</text><text x="239.8" y="277.6" font-size="3.4" fill="#3a3a3a" text-anchor="end" textLength="3.9" lengthAdjust="spacingAndGlyphs">1,0</text><text x="251.8" y="386.5" font-size="4.5" fill="#555555" text-anchor="middle">0</text><text x="288.22" y="386.5" font-size="4.5" fill="#555555" text-anchor="middle">12</text><text x="324.64" y="386.5" font-size="4.5" fill="#555555" text-anchor="middle">24</text><text x="361.06" y="386.5" font-size="4.5" fill="#555555" text-anchor="middle">36</text><text x="397.48" y="386.5" font-size="4.5" fill="#555555" text-anchor="middle">48</text><text x="433.9" y="386.5" font-size="4.5" fill="#555555" text-anchor="middle">60</text><text x="342.85" y="396.5" font-size="5.5" font-weight="bold" fill="#000" text-anchor="middle">Months</text><text transform="translate(231.3,328.2) rotate(-90)" font-size="5" font-weight="bold" fill="#000" text-anchor="middle">Probability of survival</text><path d="M251.8,275.7 279.3,275.7 279.3,277.5 290.9,277.5 290.9,278.9 315.1,278.9 315.1,280.4 327.2,280.4 327.2,282.2 343.3,282.2 343.3,286.5 403.7,286.5 403.7,288.1 433.5,288.1 433.5,290.8 443.9,290.8" fill="none" stroke="#90c7f2" stroke-width="1"/><circle cx="252.5" cy="275.7" r="0.9" fill="#62a8e2"/><circle cx="255.8" cy="275.7" r="0.9" fill="#62a8e2"/><circle cx="261.4" cy="275.7" r="0.9" fill="#62a8e2"/><circle cx="265.9" cy="275.7" r="0.9" fill="#62a8e2"/><circle cx="306.2" cy="278.9" r="0.9" fill="#62a8e2"/><circle cx="318.5" cy="280.4" r="0.9" fill="#62a8e2"/><circle cx="367.4" cy="286.5" r="0.9" fill="#62a8e2"/><circle cx="373" cy="286.5" r="0.9" fill="#62a8e2"/><circle cx="414.4" cy="288.1" r="0.9" fill="#62a8e2"/><circle cx="421.1" cy="288.1" r="0.9" fill="#62a8e2"/><circle cx="424.4" cy="288.1" r="0.9" fill="#62a8e2"/><circle cx="427.8" cy="288.1" r="0.9" fill="#62a8e2"/><circle cx="431.1" cy="288.1" r="0.9" fill="#62a8e2"/><circle cx="434.5" cy="290.8" r="0.9" fill="#62a8e2"/><circle cx="437.8" cy="290.8" r="0.9" fill="#62a8e2"/><circle cx="441.2" cy="290.8" r="0.9" fill="#62a8e2"/><path d="M251.8,275.7 253.4,275.7 253.4,276.8 265.9,276.8 265.9,278 278.4,278 278.4,279.8 281.1,279.8 281.1,281.1 282.3,281.1 282.3,283.4 297.2,283.4 297.2,285.2 302.8,285.2 302.8,288.3 309,288.3 309,290.1 315.1,290.1 315.1,291.8 321.3,291.8 321.3,293.5 329.8,293.5 329.8,295.4 338.8,295.4 338.8,297.7 351.3,297.7 351.3,302.2 357.6,302.2 357.6,306.1 367.4,306.1 367.4,308.1 381.7,308.1 381.7,310.5 443.9,310.5" fill="none" stroke="#85b4ae" stroke-width="1"/><circle cx="260.3" cy="276.8" r="0.9" fill="#578d86"/><circle cx="272.6" cy="278" r="0.9" fill="#578d86"/><circle cx="276" cy="278" r="0.9" fill="#578d86"/><circle cx="284.9" cy="283.4" r="0.9" fill="#578d86"/><circle cx="303.9" cy="288.3" r="0.9" fill="#578d86"/><circle cx="308.4" cy="288.3" r="0.9" fill="#578d86"/><circle cx="321.8" cy="293.5" r="0.9" fill="#578d86"/><circle cx="327.4" cy="293.5" r="0.9" fill="#578d86"/><circle cx="331.9" cy="295.4" r="0.9" fill="#578d86"/><circle cx="348.4" cy="297.7" r="0.9" fill="#578d86"/><circle cx="373" cy="308.1" r="0.9" fill="#578d86"/><circle cx="388.6" cy="310.5" r="0.9" fill="#578d86"/><circle cx="406.5" cy="310.5" r="0.9" fill="#578d86"/><circle cx="436.7" cy="310.5" r="0.9" fill="#578d86"/><text x="249.34" y="370.07" font-size="10" font-weight="bold" fill="#111">F</text><text x="438.61" y="372.47" font-size="10.91" fill="#333" text-anchor="end"><tspan font-style="italic">p</tspan>=0.042</text><text x="439.69" y="279.03" font-size="10.62" font-weight="bold" fill="#111" text-anchor="end">LODDS &lt;median −1.23</text><text x="439.69" y="333.16" font-size="10.72" font-weight="bold" fill="#111" text-anchor="end">LODDS ≥median −1.23</text></g>
<g id="pG"><line x1="18.5" y1="525.2" x2="219.7" y2="525.2" stroke="#e6e6e6" stroke-width="1"/><line x1="18.5" y1="505.4" x2="219.7" y2="505.4" stroke="#e6e6e6" stroke-width="1"/><line x1="18.5" y1="485.6" x2="219.7" y2="485.6" stroke="#e6e6e6" stroke-width="1"/><line x1="18.5" y1="465.8" x2="219.7" y2="465.8" stroke="#e6e6e6" stroke-width="1"/><line x1="18.5" y1="446" x2="219.7" y2="446" stroke="#e6e6e6" stroke-width="1"/><line x1="18.5" y1="426.2" x2="219.7" y2="426.2" stroke="#e6e6e6" stroke-width="1"/><line x1="18.5" y1="420.4" x2="18.5" y2="532" stroke="#d2d2d2" stroke-width="1"/><line x1="18.5" y1="531.5" x2="219.7" y2="531.5" stroke="#d2d2d2" stroke-width="1"/><text x="16.8" y="527.5" font-size="4.6" fill="#555555" text-anchor="end" textLength="5.0" lengthAdjust="spacingAndGlyphs">0,0</text><text x="16.8" y="507.7" font-size="4.6" fill="#555555" text-anchor="end" textLength="5.0" lengthAdjust="spacingAndGlyphs">0,2</text><text x="16.8" y="487.9" font-size="4.6" fill="#555555" text-anchor="end" textLength="5.0" lengthAdjust="spacingAndGlyphs">0,4</text><text x="16.8" y="468.1" font-size="4.6" fill="#555555" text-anchor="end" textLength="5.0" lengthAdjust="spacingAndGlyphs">0,6</text><text x="16.8" y="448.3" font-size="4.6" fill="#555555" text-anchor="end" textLength="5.0" lengthAdjust="spacingAndGlyphs">0,8</text><text x="16.8" y="428.5" font-size="4.6" fill="#555555" text-anchor="end" textLength="5.0" lengthAdjust="spacingAndGlyphs">1,0</text><text x="28.6" y="536.5" font-size="4.5" fill="#555555" text-anchor="middle">0</text><text x="64.76" y="536.5" font-size="4.5" fill="#555555" text-anchor="middle">12</text><text x="100.91" y="536.5" font-size="4.5" fill="#555555" text-anchor="middle">24</text><text x="137.07" y="536.5" font-size="4.5" fill="#555555" text-anchor="middle">36</text><text x="173.22" y="536.5" font-size="4.5" fill="#555555" text-anchor="middle">48</text><text x="209.38" y="536.5" font-size="4.5" fill="#555555" text-anchor="middle">60</text><text x="118.99" y="546.5" font-size="5.5" font-weight="bold" fill="#000" text-anchor="middle">Months</text><text transform="translate(6.3,478.4) rotate(-90)" font-size="5" font-weight="bold" fill="#000" text-anchor="middle">Probability of survival</text><path d="M28.6,426.2 31.2,426.2 31.2,426.6 36.5,426.6 36.5,427.2 55.3,427.2 55.3,428.1 66.9,428.1 66.9,429.3 82.1,429.3 82.1,431.1 92,431.1 92,432.5 118.8,432.5 118.8,436.4 178.7,436.4 178.7,437.8 208.8,437.8 208.8,440.2 219.7,440.2" fill="none" stroke="#90c7f2" stroke-width="1"/><circle cx="28.4" cy="426.2" r="0.9" fill="#62a8e2"/><circle cx="31.7" cy="426.6" r="0.9" fill="#62a8e2"/><circle cx="40.7" cy="427.2" r="0.9" fill="#62a8e2"/><circle cx="50.7" cy="427.2" r="0.9" fill="#62a8e2"/><circle cx="55.2" cy="427.2" r="0.9" fill="#62a8e2"/><circle cx="61.9" cy="428.1" r="0.9" fill="#62a8e2"/><circle cx="66.4" cy="428.1" r="0.9" fill="#62a8e2"/><circle cx="83.2" cy="431.1" r="0.9" fill="#62a8e2"/><circle cx="94.4" cy="432.5" r="0.9" fill="#62a8e2"/><circle cx="98.8" cy="432.5" r="0.9" fill="#62a8e2"/><circle cx="110" cy="432.5" r="0.9" fill="#62a8e2"/><circle cx="121.2" cy="436.4" r="0.9" fill="#62a8e2"/><circle cx="142.8" cy="436.4" r="0.9" fill="#62a8e2"/><circle cx="148.5" cy="436.4" r="0.9" fill="#62a8e2"/><circle cx="170.2" cy="436.4" r="0.9" fill="#62a8e2"/><circle cx="185.1" cy="437.8" r="0.9" fill="#62a8e2"/><circle cx="197.6" cy="437.8" r="0.9" fill="#62a8e2"/><circle cx="199.9" cy="437.8" r="0.9" fill="#62a8e2"/><circle cx="202.2" cy="437.8" r="0.9" fill="#62a8e2"/><circle cx="204.5" cy="437.8" r="0.9" fill="#62a8e2"/><circle cx="207.9" cy="437.8" r="0.9" fill="#62a8e2"/><circle cx="211.3" cy="440.2" r="0.9" fill="#62a8e2"/><circle cx="215.9" cy="440.2" r="0.9" fill="#62a8e2"/><circle cx="218.2" cy="440.2" r="0.9" fill="#62a8e2"/><path d="M28.6,426.2 31.2,426.2 31.2,427.5 33.8,427.5 33.8,428.9 37.4,428.9 37.4,430.2 43.7,430.2 43.7,431.6 55.3,431.6 55.3,433.4 56.6,433.4 56.6,436.1 58.9,436.1 58.9,438.2 70.5,438.2 70.5,440 74.1,440 74.1,442.4 77.7,442.4 77.7,444.7 79.5,444.7 79.5,445.9 91.1,445.9 91.1,446.8 96.5,446.8 96.5,448.1 105.4,448.1 105.4,449.7 115.2,449.7 115.2,450.9 121.5,450.9 121.5,452.7 127.7,452.7 127.7,455.4 134,455.4 134,459.9 142.9,459.9 142.9,461.3 157.2,461.3 157.2,462.6 169.8,462.6 169.8,464.4 219.7,464.4" fill="none" stroke="#85b4ae" stroke-width="1"/><circle cx="29.5" cy="426.2" r="0.9" fill="#578d86"/><circle cx="35.1" cy="428.9" r="0.9" fill="#578d86"/><circle cx="38.4" cy="430.2" r="0.9" fill="#578d86"/><circle cx="44" cy="431.6" r="0.9" fill="#578d86"/><circle cx="49.6" cy="431.6" r="0.9" fill="#578d86"/><circle cx="54.1" cy="431.6" r="0.9" fill="#578d86"/><circle cx="60.8" cy="438.2" r="0.9" fill="#578d86"/><circle cx="69.7" cy="438.2" r="0.9" fill="#578d86"/><circle cx="73.1" cy="440" r="0.9" fill="#578d86"/><circle cx="78.7" cy="444.7" r="0.9" fill="#578d86"/><circle cx="84.3" cy="445.9" r="0.9" fill="#578d86"/><circle cx="89.9" cy="445.9" r="0.9" fill="#578d86"/><circle cx="93.2" cy="446.8" r="0.9" fill="#578d86"/><circle cx="98.8" cy="448.1" r="0.9" fill="#578d86"/><circle cx="104.4" cy="448.1" r="0.9" fill="#578d86"/><circle cx="110" cy="449.7" r="0.9" fill="#578d86"/><circle cx="114.5" cy="449.7" r="0.9" fill="#578d86"/><circle cx="119" cy="450.9" r="0.9" fill="#578d86"/><circle cx="123.4" cy="452.7" r="0.9" fill="#578d86"/><circle cx="128" cy="455.4" r="0.9" fill="#578d86"/><circle cx="148.5" cy="461.3" r="0.9" fill="#578d86"/><circle cx="164.5" cy="462.6" r="0.9" fill="#578d86"/><circle cx="172.5" cy="464.4" r="0.9" fill="#578d86"/><circle cx="181.6" cy="464.4" r="0.9" fill="#578d86"/><circle cx="190.8" cy="464.4" r="0.9" fill="#578d86"/><circle cx="205.6" cy="464.4" r="0.9" fill="#578d86"/><circle cx="212.5" cy="464.4" r="0.9" fill="#578d86"/><text x="23.36" y="520.13" font-size="10" font-weight="bold" fill="#111">G</text><text x="211.69" y="519.58" font-size="10.63" fill="#333" text-anchor="end"><tspan font-style="italic">p</tspan>=0.005</text><text x="216.88" y="427.28" font-size="10.55" font-weight="bold" fill="#111" text-anchor="end">LODDS-PAR &lt;median −1.11</text><text x="215.34" y="479.56" font-size="10.55" font-weight="bold" fill="#111" text-anchor="end">LODDS-PAR ≥median −1.11</text></g>
<g id="pH"><line x1="241.4" y1="525.2" x2="441.6" y2="525.2" stroke="#e6e6e6" stroke-width="1"/><line x1="241.4" y1="505.4" x2="441.6" y2="505.4" stroke="#e6e6e6" stroke-width="1"/><line x1="241.4" y1="485.6" x2="441.6" y2="485.6" stroke="#e6e6e6" stroke-width="1"/><line x1="241.4" y1="465.8" x2="441.6" y2="465.8" stroke="#e6e6e6" stroke-width="1"/><line x1="241.4" y1="446" x2="441.6" y2="446" stroke="#e6e6e6" stroke-width="1"/><line x1="241.4" y1="426.2" x2="441.6" y2="426.2" stroke="#e6e6e6" stroke-width="1"/><line x1="241.4" y1="420.8" x2="241.4" y2="532" stroke="#d2d2d2" stroke-width="1"/><line x1="241.4" y1="531.5" x2="441.6" y2="531.5" stroke="#d2d2d2" stroke-width="1"/><text x="239.7" y="527.5" font-size="4.6" fill="#555555" text-anchor="end" textLength="5.0" lengthAdjust="spacingAndGlyphs">0,0</text><text x="239.7" y="507.7" font-size="4.6" fill="#555555" text-anchor="end" textLength="5.0" lengthAdjust="spacingAndGlyphs">0,2</text><text x="239.7" y="487.9" font-size="4.6" fill="#555555" text-anchor="end" textLength="5.0" lengthAdjust="spacingAndGlyphs">0,4</text><text x="239.7" y="468.1" font-size="4.6" fill="#555555" text-anchor="end" textLength="5.0" lengthAdjust="spacingAndGlyphs">0,6</text><text x="239.7" y="448.3" font-size="4.6" fill="#555555" text-anchor="end" textLength="5.0" lengthAdjust="spacingAndGlyphs">0,8</text><text x="239.7" y="428.5" font-size="4.6" fill="#555555" text-anchor="end" textLength="5.0" lengthAdjust="spacingAndGlyphs">1,0</text><text x="251.5" y="536.5" font-size="4.5" fill="#555555" text-anchor="middle">0</text><text x="287.68" y="536.5" font-size="4.5" fill="#555555" text-anchor="middle">12</text><text x="323.86" y="536.5" font-size="4.5" fill="#555555" text-anchor="middle">24</text><text x="360.04" y="536.5" font-size="4.5" fill="#555555" text-anchor="middle">36</text><text x="396.22" y="536.5" font-size="4.5" fill="#555555" text-anchor="middle">48</text><text x="432.4" y="536.5" font-size="4.5" fill="#555555" text-anchor="middle">60</text><text x="341.95" y="546.5" font-size="5.5" font-weight="bold" fill="#000" text-anchor="middle">Months</text><text transform="translate(228.8,478.4) rotate(-90)" font-size="5" font-weight="bold" fill="#000" text-anchor="middle">Probability of survival</text><path d="M251.5,426.2 254.2,426.2 254.2,426.8 260.4,426.8 260.4,428.1 272,428.1 272,429.8 278.3,429.8 278.3,432.2 290,432.2 290,432.9 295.3,432.9 295.3,435.7 298,435.7 298,437.5 315,437.5 315,438.4 337.9,438.4 337.9,441.1 341.5,441.1 341.5,442.5 348.6,442.5 348.6,443.4 353.1,443.4 353.1,444.7 358.5,444.7 358.5,446.1 362.9,446.1 362.9,447 374.5,447 374.5,448.2 401.3,448.2 401.3,450.3 431.4,450.3 431.4,452.9 441.6,452.9" fill="none" stroke="#90c7f2" stroke-width="1"/><circle cx="251.4" cy="426.2" r="0.9" fill="#62a8e2"/><circle cx="255.8" cy="426.8" r="0.9" fill="#62a8e2"/><circle cx="270.4" cy="428.1" r="0.9" fill="#62a8e2"/><circle cx="290.5" cy="432.9" r="0.9" fill="#62a8e2"/><circle cx="297.2" cy="435.7" r="0.9" fill="#62a8e2"/><circle cx="305" cy="437.5" r="0.9" fill="#62a8e2"/><circle cx="338.6" cy="441.1" r="0.9" fill="#62a8e2"/><circle cx="342" cy="442.5" r="0.9" fill="#62a8e2"/><circle cx="351.1" cy="443.4" r="0.9" fill="#62a8e2"/><circle cx="360.3" cy="446.1" r="0.9" fill="#62a8e2"/><circle cx="366" cy="447" r="0.9" fill="#62a8e2"/><circle cx="371.7" cy="447" r="0.9" fill="#62a8e2"/><circle cx="376.2" cy="448.2" r="0.9" fill="#62a8e2"/><circle cx="383.1" cy="448.2" r="0.9" fill="#62a8e2"/><circle cx="402.5" cy="450.3" r="0.9" fill="#62a8e2"/><circle cx="405.9" cy="450.3" r="0.9" fill="#62a8e2"/><circle cx="410.5" cy="450.3" r="0.9" fill="#62a8e2"/><circle cx="415.1" cy="450.3" r="0.9" fill="#62a8e2"/><circle cx="419.6" cy="450.3" r="0.9" fill="#62a8e2"/><circle cx="424.2" cy="450.3" r="0.9" fill="#62a8e2"/><circle cx="427.6" cy="450.3" r="0.9" fill="#62a8e2"/><circle cx="431" cy="450.3" r="0.9" fill="#62a8e2"/><circle cx="435.6" cy="452.9" r="0.9" fill="#62a8e2"/><circle cx="440.2" cy="452.9" r="0.9" fill="#62a8e2"/><path d="M251.5,426.2 254.2,426.2 254.2,427.5 256.8,427.5 256.8,428.9 260.4,428.9 260.4,431.6 263.1,431.6 263.1,432.5 266.7,432.5 266.7,434 270.3,434 270.3,435.2 277.4,435.2 277.4,437.9 281,437.9 281,439.7 285.5,439.7 285.5,441.5 290,441.5 290,442.9 292.6,442.9 292.6,444.7 296.2,444.7 296.2,447.4 300.7,447.4 300.7,449 305.1,449 305.1,450.4 308.7,450.4 308.7,451.8 314.1,451.8 314.1,454 319.5,454 319.5,455.8 325.4,455.8 325.4,457.2 339.7,457.2 339.7,458.6 345,458.6 345,460.1 355.8,460.1 355.8,463.1 364.7,463.1 364.7,464 391.6,464 391.6,465.9 441.6,465.9" fill="none" stroke="#85b4ae" stroke-width="1"/><circle cx="251.4" cy="426.2" r="0.9" fill="#578d86"/><circle cx="254.7" cy="427.5" r="0.9" fill="#578d86"/><circle cx="260.3" cy="428.9" r="0.9" fill="#578d86"/><circle cx="263.7" cy="432.5" r="0.9" fill="#578d86"/><circle cx="268.1" cy="434" r="0.9" fill="#578d86"/><circle cx="271.5" cy="435.2" r="0.9" fill="#578d86"/><circle cx="274.8" cy="435.2" r="0.9" fill="#578d86"/><circle cx="279.3" cy="437.9" r="0.9" fill="#578d86"/><circle cx="282.7" cy="439.7" r="0.9" fill="#578d86"/><circle cx="286" cy="441.5" r="0.9" fill="#578d86"/><circle cx="290.5" cy="442.9" r="0.9" fill="#578d86"/><circle cx="296.1" cy="444.7" r="0.9" fill="#578d86"/><circle cx="300.6" cy="447.4" r="0.9" fill="#578d86"/><circle cx="303.9" cy="449" r="0.9" fill="#578d86"/><circle cx="307.3" cy="450.4" r="0.9" fill="#578d86"/><circle cx="315.1" cy="454" r="0.9" fill="#578d86"/><circle cx="318.5" cy="454" r="0.9" fill="#578d86"/><circle cx="321.8" cy="455.8" r="0.9" fill="#578d86"/><circle cx="326.3" cy="457.2" r="0.9" fill="#578d86"/><circle cx="333" cy="457.2" r="0.9" fill="#578d86"/><circle cx="337.5" cy="457.2" r="0.9" fill="#578d86"/><circle cx="342" cy="458.6" r="0.9" fill="#578d86"/><circle cx="346.4" cy="460.1" r="0.9" fill="#578d86"/><circle cx="366" cy="464" r="0.9" fill="#578d86"/><circle cx="369.4" cy="464" r="0.9" fill="#578d86"/><circle cx="372.8" cy="464" r="0.9" fill="#578d86"/><circle cx="376.2" cy="464" r="0.9" fill="#578d86"/><circle cx="378.5" cy="464" r="0.9" fill="#578d86"/><circle cx="382" cy="464" r="0.9" fill="#578d86"/><circle cx="384.2" cy="464" r="0.9" fill="#578d86"/><circle cx="386.5" cy="464" r="0.9" fill="#578d86"/><circle cx="390" cy="464" r="0.9" fill="#578d86"/><circle cx="394.5" cy="465.9" r="0.9" fill="#578d86"/><circle cx="401.4" cy="465.9" r="0.9" fill="#578d86"/><circle cx="404.8" cy="465.9" r="0.9" fill="#578d86"/><circle cx="409.4" cy="465.9" r="0.9" fill="#578d86"/><circle cx="413.9" cy="465.9" r="0.9" fill="#578d86"/><circle cx="418.5" cy="465.9" r="0.9" fill="#578d86"/><circle cx="423" cy="465.9" r="0.9" fill="#578d86"/><circle cx="428.8" cy="465.9" r="0.9" fill="#578d86"/><circle cx="433.3" cy="465.9" r="0.9" fill="#578d86"/><circle cx="437.9" cy="465.9" r="0.9" fill="#578d86"/><circle cx="441.3" cy="465.9" r="0.9" fill="#578d86"/><text x="248.69" y="519.94" font-size="10" font-weight="bold" fill="#111">H</text><text x="439.26" y="520.21" font-size="10.77" fill="#333" text-anchor="end"><tspan font-style="italic">p</tspan>&lt;0.001</text><text x="438.15" y="438.32" font-size="10.65" font-weight="bold" fill="#111" text-anchor="end">Stage I/II</text><text x="438.27" y="480.64" font-size="10.76" font-weight="bold" fill="#111" text-anchor="end">Stage III/ IV</text></g>
</svg></body></html>
